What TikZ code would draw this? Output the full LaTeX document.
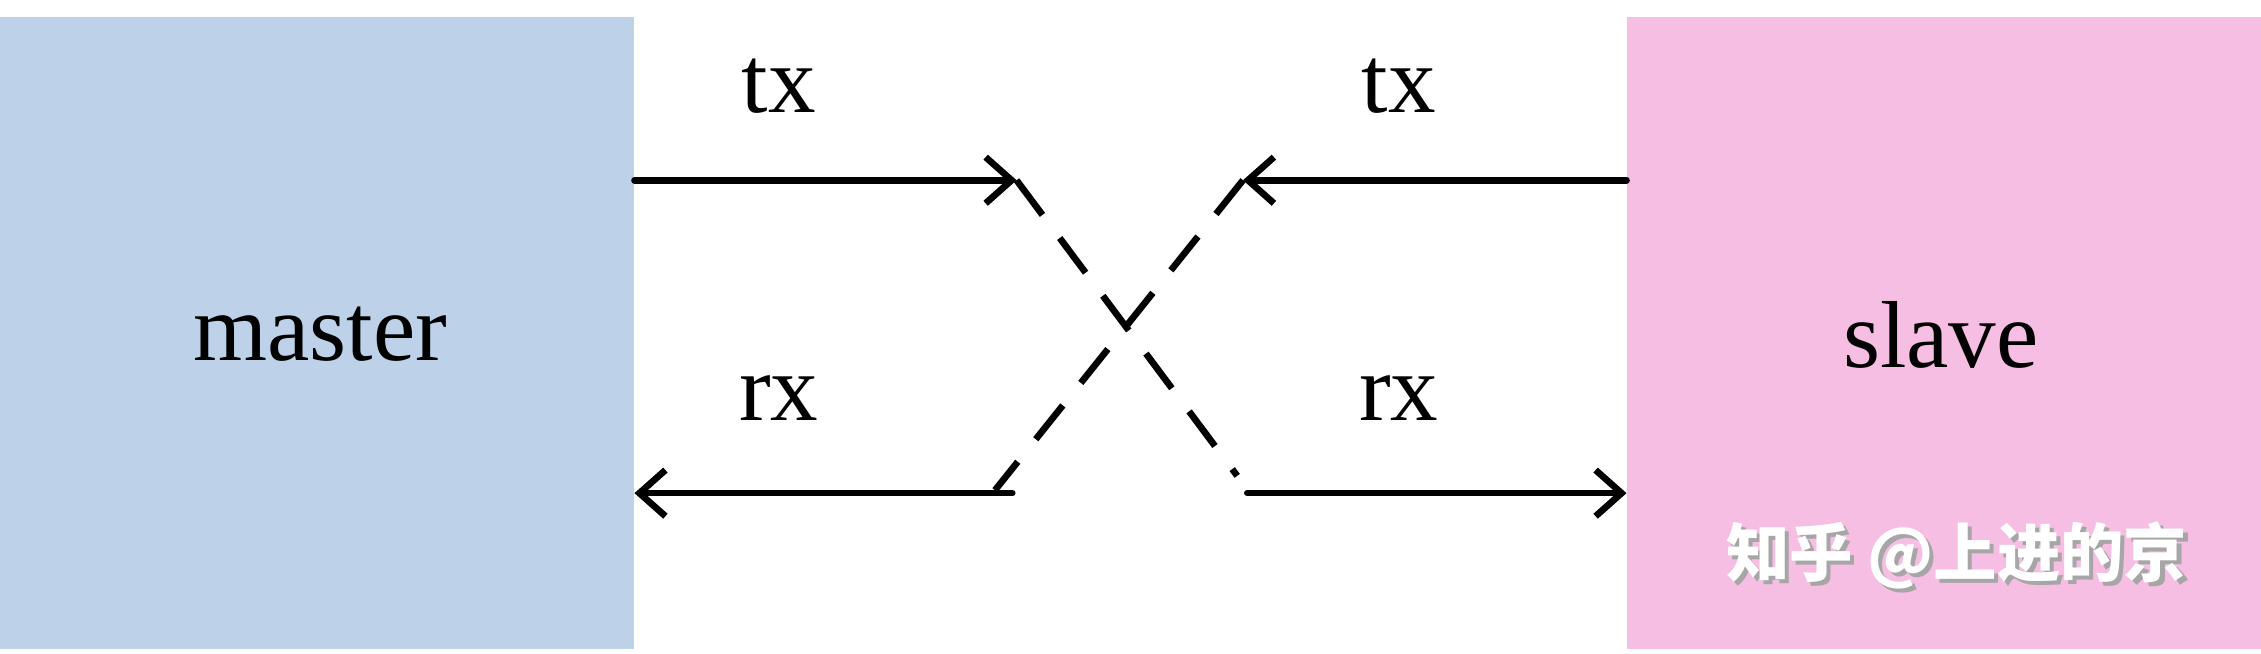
\documentclass[tikz,border=0pt]{standalone}
\usepackage{fontspec}
\setmainfont{Liberation Serif}
\newfontfamily\cjk{Noto Sans CJK SC}
\usetikzlibrary{arrows.meta}
\definecolor{mblue}{HTML}{BDD1E9}
\definecolor{spink}{HTML}{F6BEE2}
\begin{document}
\begin{tikzpicture}[x=0.5pt,y=-0.5pt,
  wire/.style={line width=2.3pt,line cap=round,-{Straight Barb[length=9pt,width=16pt,line width=2.3pt]}},
  dashline/.style={line width=2.3pt,dash pattern=on 15pt off 10pt},
  lbl/.style={font=\fontsize{33}{33}\selectfont}]
\useasboundingbox (0,0) rectangle (1568,453);
\fill[mblue] (0,12) rectangle (440,450);
\fill[spink] (1128,12) rectangle (1568,450);
\node[lbl] (m) at (222,232) {master};
\node[lbl] (s) at (1346,232) {slave};
\node[lbl] (t1) at (540,60) {tx};
\node[lbl] (t2) at (970,60) {tx};
\node[lbl] (r1) at (540,276) {rx};
\node[lbl] (r2) at (970,276) {rx};
\coordinate (a1) at (440,125); \coordinate (a2) at (705,125);
\coordinate (b1) at (1128,125); \coordinate (b2) at (862,125);
\coordinate (c1) at (702,342); \coordinate (c2) at (440,342);
\coordinate (d1) at (865,342); \coordinate (d2) at (1128,342);
\coordinate (e1) at (858,330); \coordinate (e2) at (690,340);
\draw[wire] (a1) -- (a2);
\draw[wire] (b1) -- (b2);
\draw[wire] (c1) -- (c2);
\draw[wire] (d1) -- (d2);
\draw[dashline] (a2) -- (e1);
\draw[dashline] (b2) -- (e2);
\node[font=\cjk\bfseries\fontsize{22}{22}\selectfont,text=gray!70] (w0) at (1360,388) {知乎 @上进的京};
\node[font=\cjk\bfseries\fontsize{22}{22}\selectfont,text=white] (w1) at (1357,385) {知乎 @上进的京};
\end{tikzpicture}
\end{document}
